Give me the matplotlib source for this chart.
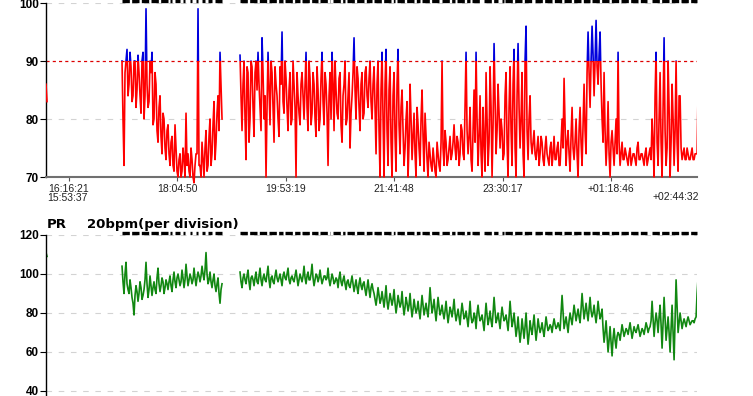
import numpy as np
import matplotlib.pyplot as plt
from matplotlib.patches import Rectangle

# clock of the first sample and labels along the time axis
start_clock = "15:53:37"
end_label = "+02:44:32"
tick_labels = ["16:16:21", "18:04:50", "19:53:19", "21:41:48", "23:30:17", "+01:18:46"]
spo2_threshold = 90
spo2_ticks = [70, 80, 90, 100]
pr_ticks = [40, 60, 80, 100, 120]

# samples are 60 s apart; each block is read as "even" samples and the
# samples lying between them ("odd")
step = 60
spo2_lead = [86, 83]
pr_lead = [111, 109]

seg_a_start = 4560
spo2_a_even = [90, 72, 90, 84, 91.5, 83, 90, 82, 91, 84, 90, 80, 99, 82, 90, 91.5, 80,
               86, 76, 84, 74, 80, 73, 79, 72, 77, 71, 75, 70, 74, 71, 73, 81, 74, 70,
               73, 69, 74, 99, 72, 76, 70, 78, 72, 80, 74, 83, 76, 84, 91.5, 80]
spo2_a_odd = [80, 88, 92, 86, 89, 84, 90, 85, 88, 81, 91.5, 84, 86, 83, 88, 79, 88, 78, 82, 77,
              81, 75, 78, 74, 76, 72, 79, 71, 73, 70, 75, 70, 72, 71, 75, 70, 72, 74, 72, 70,
              73, 75, 71, 77, 72, 79, 73, 81, 78, 86]
pr_a_even = [104, 90, 106, 92, 97, 88, 79, 94, 86, 96, 87, 92, 106, 88, 99, 89, 96,
             90, 103, 91, 98, 90, 97, 92, 99, 91, 101, 93, 100, 94, 102, 93, 105, 94,
             100, 95, 103, 94, 101, 96, 104, 97, 111, 95, 101, 93, 100, 91, 98, 85, 95]
pr_a_odd = [96, 100, 95, 90, 93, 85, 89, 91, 90, 93, 89, 97, 95, 92, 94, 93, 92, 98, 95, 94,
            96, 93, 95, 96, 94, 97, 96, 98, 97, 96, 98, 97, 99, 97, 98, 97, 98, 98, 99, 99,
            100, 102, 100, 97, 96, 97, 94, 95, 90, 92]

seg_b_start = 11640
spo2_b_even = [91, 78, 90, 73, 88, 80, 89, 77, 90,
               91.5, 82, 94, 80, 70, 91.5, 79, 88, 76, 86, 80, 89, 95, 81, 87, 78, 88, 80, 86, 70, 84, 79,
               88, 80, 91.5, 78, 87, 81, 86, 77, 85, 80, 91.5, 79, 86, 72, 88, 91.5, 78, 85, 80, 88, 76, 86, 79, 84, 75,
               84, 94, 80, 87, 78, 88, 81, 89, 82, 90, 80, 89, 74, 90, 70, 91.5, 70, 92, 72, 89, 70, 88, 71, 92, 74,
               85, 72, 80, 70, 86, 73, 81, 70, 79, 72, 85, 71, 77, 70, 74, 71, 73, 70, 74, 71,
               90, 72, 76, 73, 77, 74, 79, 73, 76, 74, 78, 73,
               91.5, 74, 82, 71, 85, 91.5, 72, 84, 70, 76, 88, 72, 89, 70, 93, 74, 86, 75, 78, 74, 88, 70, 89, 72,
               92, 70, 93, 75, 88, 70, 96, 73, 84,
               74, 78, 73, 77, 74, 76, 72, 77, 73, 75, 72, 77, 73, 76, 72,
               80, 87, 72, 78, 71, 82, 73, 80, 70, 82, 72, 86, 74,
               95, 82, 96, 84, 97, 86, 95, 80,
               88, 72, 83, 70, 78, 72, 80, 91.5,
               72, 76, 73, 74, 72, 75, 73, 74, 72, 76, 73, 74, 72, 75, 73, 75,
               80, 70, 91.5, 72, 88, 70, 94, 72, 90, 70, 86, 72, 90, 71, 84,
               73, 75, 73, 74, 73, 75, 73, 74, 85]
spo2_b_odd = [84, 86, 80, 89, 76, 90, 82, 88, 85,
              86, 78, 88, 84, 82, 85, 90, 82, 89, 84, 77, 86, 83, 90, 82, 85, 79, 90, 82, 88, 81, 86,
              84, 86, 82, 90, 79, 88, 80, 89, 78, 87, 83, 88, 81, 84, 80, 86, 90, 81, 87, 79, 84, 90, 80, 88, 81,
              88, 85, 89, 82, 86, 80, 88, 84, 87, 83, 86, 82, 86, 78, 85, 80, 86, 78, 85, 76, 84, 77, 86, 79, 82,
              78, 75, 83, 76, 80, 77, 74, 82, 75, 80, 77, 81, 73, 76, 72, 75, 71, 76, 72, 76,
              75, 78, 72, 75, 73, 76, 75, 77, 72, 79, 74, 82,
              78, 77, 73, 78, 76, 80, 77, 74, 82, 71, 80, 76, 82, 79, 84, 78, 81, 80, 73, 84, 76, 82, 78, 86,
              75, 84, 82, 80, 74, 90, 78, 80, 76,
              76, 74, 75, 72, 77, 73, 75, 74, 72, 76, 74, 73, 75, 72, 76,
              75, 79, 76, 74, 77, 75, 76, 74, 78, 76, 79, 78, 88,
              88, 90, 91, 90, 89, 91, 86, 76,
              78, 76, 74, 76, 75, 76, 74, 76,
              74, 73, 75, 73, 74, 72, 74, 73, 75, 73, 74, 73, 74, 72, 74, 73,
              76, 84, 76, 80, 76, 82, 78, 75, 82, 76, 80, 78, 76, 84, 75,
              74, 73, 75, 73, 74, 73, 74, 74]
pr_b_even = [101, 93, 100, 95, 102, 92, 99, 94, 101,
             95, 103, 94, 100, 96, 104, 93, 99, 95, 102, 96, 100, 94, 101, 97, 103, 95, 99, 96, 102, 94, 100,
             96, 104, 95, 101, 97, 105, 94, 100, 96, 102, 95, 99, 97, 103, 94, 100, 95, 98, 93, 101, 94, 99, 92, 97, 93,
             99, 91, 97, 90, 98, 92, 96, 89, 97, 88, 95, 90, 84, 93, 85, 91, 83, 94, 82, 90, 84, 92, 80, 89, 83,
             91, 79, 88, 81, 90, 78, 87, 80, 86, 77, 89, 79, 85, 78, 93, 80, 87, 76, 88, 79,
             84, 77, 86, 75, 83, 78, 87, 76, 82, 74, 85, 77,
             81, 73, 86, 75, 80, 72, 84, 76, 79, 71, 85, 74, 81, 73, 88, 75, 80, 72, 83, 76, 79, 71, 86, 73,
             80, 68, 78, 65, 77, 67, 80, 64, 76,
             69, 79, 66, 77, 70, 75, 68, 78, 71, 74, 70, 77, 72, 75, 71,
             89, 72, 78, 70, 80, 74, 84, 76, 82, 75, 90, 77, 85,
             76, 88, 78, 84, 75, 86, 77, 82,
             65, 76, 60, 73, 58, 72, 62, 70,
             66, 74, 68, 72, 69, 75, 67, 73, 70, 74, 68, 72, 69, 75, 70, 73,
             86, 68, 80, 70, 84, 62, 88, 66, 78, 60, 84, 56, 97, 70, 80,
             72, 77, 73, 78, 74, 76, 75, 78, 98]
pr_b_odd = [96, 98, 97, 99, 96, 98, 97, 98, 96,
            99, 97, 98, 97, 100, 97, 98, 96, 99, 98, 98, 97, 99, 98, 100, 97, 98, 97, 99, 98, 97, 98,
            99, 98, 99, 97, 100, 98, 97, 99, 98, 98, 97, 99, 98, 97, 97, 98, 96, 97, 98, 96, 97, 95, 96, 94, 96,
            95, 94, 93, 95, 94, 95, 92, 93, 92, 93, 92, 87, 88, 89, 87, 87, 88, 86, 86, 87, 87, 85, 84, 86, 85,
            84, 83, 85, 84, 83, 82, 83, 82, 81, 83, 84, 82, 81, 85, 86, 83, 81, 82, 83, 81,
            80, 81, 80, 79, 81, 82, 80, 79, 78, 80, 81, 78,
            77, 79, 78, 76, 78, 80, 79, 77, 75, 78, 79, 77, 76, 80, 81, 77, 76, 78, 79, 77, 75, 78, 79, 76,
            74, 72, 71, 70, 72, 73, 71, 69, 72,
            74, 72, 71, 73, 72, 71, 73, 74, 72, 73, 74, 74, 73, 73, 80,
            80, 75, 74, 76, 77, 79, 80, 79, 78, 82, 83, 81, 80,
            82, 81, 80, 79, 80, 81, 79, 72,
            70, 68, 66, 65, 67, 66, 68, 69,
            70, 71, 70, 71, 72, 71, 70, 71, 72, 71, 70, 71, 72, 73, 72, 76,
            77, 75, 76, 78, 74, 75, 77, 72, 70, 72, 70, 76, 84, 75, 76,
            75, 75, 76, 76, 75, 76, 77, 90]

# event marks shown above each panel (start, end in seconds)
marker_spans = [(4560, 7320), (7440, 7560), (7740, 8040), (8220, 8340), (8640, 8760),
                (9000, 9120), (9360, 9540), (9720, 9960), (10140, 10560),
                (11640, 14220), (14340, 15240), (15360, 16320), (16440, 17040),
                (17220, 17940), (18060, 19560), (19680, 20940), (21060, 22440),
                (22560, 23640), (23760, 24540), (24660, 25440), (25560, 26040),
                (26280, 27120), (27360, 27480), (27540, 29220), (29340, 32640),
                (32760, 36060), (36360, 39060)]


def clock_seconds(label):
    day = 86400 if label.startswith("+") else 0
    h, m, s = [int(p) for p in label.lstrip("+").split(":")]
    return day + h * 3600 + m * 60 + s


t0 = clock_seconds(start_clock)
tick_pos = [clock_seconds(l) - t0 for l in tick_labels]
t_end = clock_seconds(end_label) - t0


def merge(even, odd):
    n = min(len(odd), len(even) - 1)
    out = np.empty(2 * n + 1)
    out[0::2] = even[:n + 1]
    out[1::2] = odd[:n]
    return out


def build(lead, a_even, a_odd, b_even, b_odd):
    a = merge(a_even, a_odd)
    b = merge(b_even, b_odd)
    t = np.concatenate([np.arange(len(lead)) * step, [np.nan],
                        seg_a_start + np.arange(len(a)) * step, [np.nan],
                        seg_b_start + np.arange(len(b)) * step])
    v = np.concatenate([lead, [np.nan], a, [np.nan], b])
    return t, v


t_spo2, spo2 = build(spo2_lead, spo2_a_even, spo2_a_odd, spo2_b_even, spo2_b_odd)
t_pr, pr = build(pr_lead, pr_a_even, pr_a_odd, pr_b_even, pr_b_odd)

fig = plt.figure(figsize=(7.53, 3.96), dpi=100)
W, H = 753, 396

ax1 = fig.add_axes([46 / W, 1 - 177 / H, 651 / W, 174 / H])
ax2 = fig.add_axes([46 / W, 1 - 400.75 / H, 651 / W, 165.75 / H])

# SpO2 panel
for y in spo2_ticks:
    if y != spo2_threshold:
        ax1.axhline(y, color='#d3d3d3', linestyle=(0, (5, 6)), linewidth=0.8, zorder=0)
ax1.axhline(spo2_threshold, color='#dd0000', linestyle=(0, (2.5, 2.5)), linewidth=0.9, zorder=1)

blue, = ax1.plot(t_spo2, spo2, color='#0000dd', linewidth=1.2, zorder=2)
red, = ax1.plot(t_spo2, spo2, color='#ff0000', linewidth=1.2, zorder=3)
blue.set_clip_path(Rectangle((0, spo2_threshold), t_end, 50, transform=ax1.transData))
red.set_clip_path(Rectangle((0, 0), t_end, spo2_threshold, transform=ax1.transData))

ax1.set_ylim(70, 100)
ax1.set_yticks(spo2_ticks)

# PR panel
for y in pr_ticks:
    ax2.axhline(y, color='#d3d3d3', linestyle=(0, (5, 6)), linewidth=0.8, zorder=0)
ax2.plot(t_pr, pr, color='#118811', linewidth=1.2, zorder=2)
ax2.set_ylim(35, 120)
ax2.set_yticks(pr_ticks)

for ax in (ax1, ax2):
    ax.set_xlim(0, t_end)
    ax.spines['top'].set_visible(False)
    ax.spines['right'].set_visible(False)
    ax.spines['left'].set_color('black')
    ax.spines['left'].set_linewidth(1.0)
    ax.spines['bottom'].set_color('#707070')
    ax.spines['bottom'].set_linewidth(1.5)
    ax.tick_params(axis='y', length=4, width=0.8, pad=1, direction='out')
    for lab in ax.get_yticklabels():
        lab.set_fontfamily('Liberation Sans')
        lab.set_fontweight('bold')
        lab.set_fontsize(8.5)
    ax.hlines([1.013] * len(marker_spans), [s for s, e in marker_spans],
              [e for s, e in marker_spans], transform=ax.get_xaxis_transform(),
              colors='black', linewidth=2.4, linestyles=(0, (2.2, 0.7)), clip_on=False)

ax1.set_xticks(tick_pos)
ax1.set_xticklabels(tick_labels, fontfamily='Liberation Sans', fontsize=7.5, color='#222222')
ax1.tick_params(axis='x', length=3, width=0.8, color='#555555', pad=2)
ax2.set_xticks(tick_pos)
ax2.set_xticklabels([])

ax1.annotate(start_clock, xy=(0, 0), xycoords='axes fraction', xytext=(1, -16),
             textcoords='offset pixels', ha='left', va='top',
             fontfamily='Liberation Sans', fontsize=7.5, color='#222222')
ax1.annotate(end_label, xy=(1, 0), xycoords='axes fraction', xytext=(2, -15),
             textcoords='offset pixels', ha='right', va='top',
             fontfamily='Liberation Sans', fontsize=7.5, color='#222222')

fig.text(47 / W, 1 - 228 / H, "PR", fontfamily='DejaVu Sans', fontweight='bold',
         fontsize=9.5, va='baseline', ha='left')
fig.text(87 / W, 1 - 228 / H, "20bpm(per division)", fontfamily='DejaVu Sans',
         fontweight='bold', fontsize=9.5, va='baseline', ha='left')

fig.savefig('out.png', dpi=100)
